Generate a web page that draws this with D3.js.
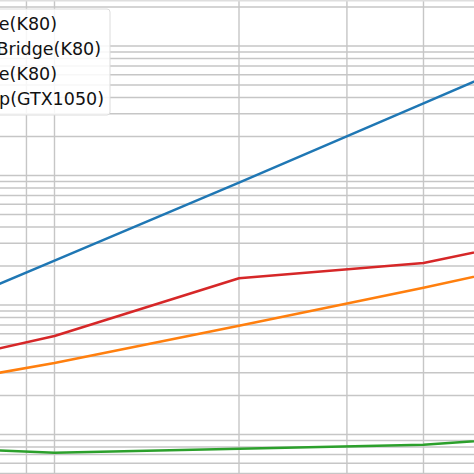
<!DOCTYPE html>
<html>
<head>
<meta charset="utf-8">
<script src="https://cdn.jsdelivr.net/npm/d3@7"></script>
<style>
  body { margin: 0; background: #fff; }
  svg { display: block; }
</style>
</head>
<body>
<div id="chart"></div>
<script>
// problem sizes (x) and run times (y), log-log
const sizes = [5, 10, 20, 40, 80];
const seriesNames = ['Skylake(K80)', 'Ivy Bridge(K80)', 'Kaby Lake(K80)', 'Laptop(GTX1050)'];
const seriesColors = ['#1f77b4', '#d62728', '#ff7f0e', '#2ca02c'];
const blueVals = [5.5, 22.0, 88.0, 361, 1480];
const redVals = [2.75, 5.76, 16.1, 21.1, 42.0];
const orangeVals = [1.99, 3.57, 6.92, 13.6, 27.7];
const greenVals = [0.82, 0.724, 0.777, 0.834, 1.04];
const legendEnds = [57, 101, 57, 104];

const W = 474, H = 474;

const svg = d3.select('#chart').append('svg')
    .attr('width', W)
    .attr('height', H);

// the picture is a crop of a bigger plot, so the scales run past the edges
const x = d3.scaleLog().domain([10, 40]).range([54.5, 423.5]);
const y = d3.scaleLog().domain([1, 1000]).range([434.5, 46]);

// grid lines (major + minor)
const xTicks = x.copy().domain([x.invert(0), x.invert(W)]).ticks();
const yTicks = y.copy().domain([y.invert(H), y.invert(0)]).ticks();

const grid = svg.append('g').attr('stroke', '#c6c6c6').attr('stroke-width', 1.4);
grid.selectAll('.vg').data(xTicks).enter().append('line')
    .attr('class', 'vg')
    .attr('x1', d => x(d)).attr('x2', d => x(d))
    .attr('y1', 0).attr('y2', H);
grid.selectAll('.hg').data(yTicks).enter().append('line')
    .attr('class', 'hg')
    .attr('x1', 0).attr('x2', W)
    .attr('y1', d => y(d)).attr('y2', d => y(d));

// top frame edge
svg.append('line')
    .attr('x1', 0).attr('x2', W).attr('y1', 0.8).attr('y2', 0.8)
    .attr('stroke', '#dedede').attr('stroke-width', 1.4);

const allVals = [blueVals, redVals, orangeVals, greenVals];
const line = d3.line()
    .x(d => x(d[0]))
    .y(d => y(d[1]));

allVals.forEach((vals, i) => {
    svg.append('path')
        .datum(sizes.map((s, j) => [s, vals[j]]))
        .attr('fill', 'none')
        .attr('stroke', seriesColors[i])
        .attr('stroke-width', 2.5)
        .attr('stroke-linejoin', 'round')
        .attr('d', line);
});

// legend (left part is cut off by the crop)
const legend = svg.append('g');
legend.append('rect')
    .attr('x', -300).attr('y', 9)
    .attr('width', 410).attr('height', 106)
    .attr('rx', 3)
    .attr('fill', 'rgba(255,255,255,0.85)')
    .attr('stroke', '#dcdcdc')
    .attr('stroke-width', 1);

legend.selectAll('text').data(seriesNames).enter().append('text')
    .attr('x', (d, i) => legendEnds[i])
    .attr('y', (d, i) => 29.5 + i * 25.3)
    .attr('text-anchor', 'end')
    .attr('font-family', 'DejaVu Sans')
    .attr('font-size', 17.5)
    .attr('fill', '#111')
    .text(d => d);
</script>
</body>
</html>
